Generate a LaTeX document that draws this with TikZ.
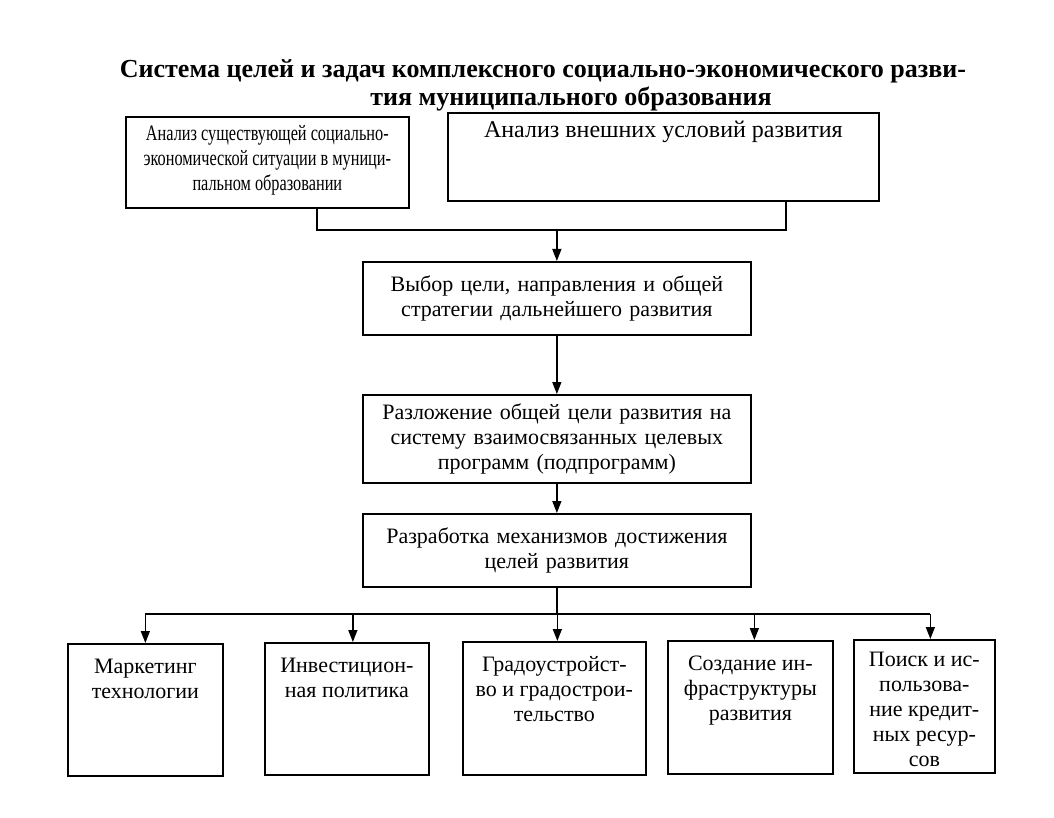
\documentclass[tikz,border=0pt]{standalone}
\usepackage{fontspec}
\setmainfont{Liberation Serif}
\newfontfamily\narrowfont{Liberation Serif}[FakeStretch=0.74]
\usetikzlibrary{arrows.meta}

\tikzset{
  blk/.style={draw, line width=1.7pt, inner sep=0pt, anchor=north west, font=\fontsize{22}{25}\selectfont},
  mid/.style={blk, text width=388pt, minimum height=#1, align=center},
  wire/.style={line width=1.4pt},
  arr/.style={wire, -{Triangle[length=12pt,width=9pt]}}
}

\begin{document}
\begin{tikzpicture}[x=1pt,y=-1pt]
        \useasboundingbox (0,0) rectangle (1054,818);

        % title
        \node[font=\fontsize{26}{28}\selectfont\bfseries, align=center] (title) at (543,85)
            {Система целей и задач комплексного социально-экономического разви-\\\hspace*{56pt}тия муниципального образования};

        % analysis
        \node[blk, font=\narrowfont\fontsize{22}{25}\selectfont] (inner) at (125,116) {\parbox[t][91pt][t]{283pt}{\centering\rule{0pt}{24pt}Анализ существующей социально-\\экономической ситуации в муници-\\пальном образовании}};
        \node[blk, font=\fontsize{24}{25}\selectfont] (outer) at (447,112) {\parbox[t][88pt][t]{431pt}{\centering\rule{0pt}{25pt}Анализ внешних условий развития}};

        % main chain
        \node[mid=73pt] (goal) at (362,261) {Выбор цели, направления и общей\\стратегии дальнейшего развития};
        \node[mid=88pt] (split) at (362,394) {Разложение общей цели развития на\\систему взаимосвязанных целевых\\программ (подпрограмм)};
        \node[mid=73pt] (mech) at (362,513) {Разработка механизмов достижения\\целей развития};

        % mechanisms
        \node[blk] (mark) at (67,643) {\parbox[t][132pt][t]{155pt}{\centering\rule{0pt}{30pt}Маркетинг\\технологии}};
        \node[blk] (inv) at (264,642) {\parbox[t][132pt][t]{164pt}{\centering\rule{0pt}{30pt}Инвестицион-\\ная политика}};
        \node[blk] (city) at (462,641) {\parbox[t][133pt][t]{183pt}{\centering\rule{0pt}{30pt}Градоустройст-\\во и градострои-\\тельство}};
        \node[blk] (infra) at (667,640) {\parbox[t][133pt][t]{165pt}{\centering\rule{0pt}{30pt}Создание ин-\\фраструктуры\\развития}};
        \node[blk] (credit) at (853,639) {\parbox[t][133pt][t]{141pt}{\centering\rule{0pt}{27pt}Поиск и ис-\\пользова-\\ние кредит-\\ных ресур-\\сов}};

        % connectors
        \coordinate (ja) at (317,230);
        \coordinate (jb) at (786,230);
        \coordinate (jm) at (556,614);

        \draw[wire] (inner.south -| ja) -- (ja) -- (jb) -- (outer.south -| jb);
        \draw[arr] (goal.north |- ja) -- (goal.north);
        \draw[arr] (goal.south) -- (split.north);
        \draw[arr] (split.south) -- (mech.north);

        \draw[wire] (mech.south) -- (mech.south |- jm);
        \draw[wire] (mark.north |- jm) -- ([xshift=6pt]credit.north |- jm);
        \draw[arr] (mark.north |- jm) -- (mark.north);
        \draw[arr] ([xshift=6pt]inv.north |- jm) -- ([xshift=6pt]inv.north);
        \draw[arr] ([xshift=3pt]city.north |- jm) -- ([xshift=3pt]city.north);
        \draw[arr] ([xshift=4pt]infra.north |- jm) -- ([xshift=4pt]infra.north);
        \draw[arr] ([xshift=6pt]credit.north |- jm) -- ([xshift=6pt]credit.north);
    \end{tikzpicture}
\end{document}
